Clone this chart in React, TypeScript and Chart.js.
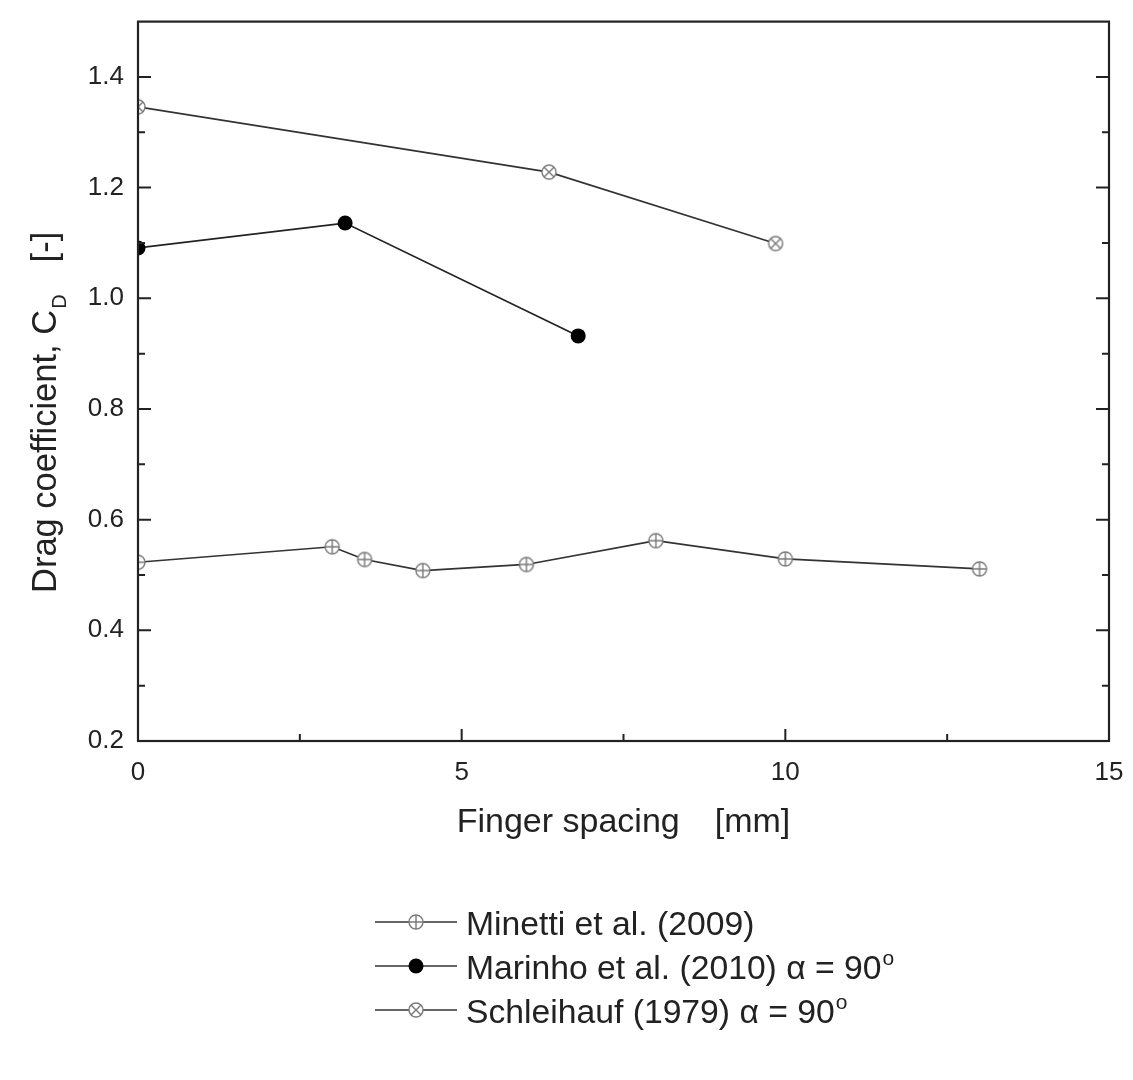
import React, { useEffect, useRef } from "react";
import { Chart, registerables } from "chart.js";

Chart.register(...registerables);

// Finger spacing [mm] vs drag coefficient C_D
const minettiX = [0, 3, 3.5, 4.4, 6, 8, 10, 13];
const minettiY = [0.523, 0.551, 0.528, 0.508, 0.519, 0.562, 0.529, 0.511];

const marinhoX = [0, 3.2, 6.8];
const marinhoY = [1.091, 1.136, 0.932];

const schleihaufX = [0, 6.35, 9.85];
const schleihaufY = [1.346, 1.228, 1.099];

const X_MAJOR = [0, 5, 10, 15];
const X_MINOR = [2.5, 7.5, 12.5];
const Y_MAJOR = [0.2, 0.4, 0.6, 0.8, 1.0, 1.2, 1.4];
const Y_MINOR = [0.3, 0.5, 0.7, 0.9, 1.1, 1.3];

const LEGEND = [
  { label: "Minetti et al. (2009)", angle: "" },
  { label: "Marinho et al. (2010) \u03b1 = 90", angle: "o" },
  { label: "Schleihauf (1979) \u03b1 = 90", angle: "o" },
];

const FONT = "'Liberation Sans', Arial, Helvetica, sans-serif";
const INK = "#222";

function makeMarker(kind: "plus" | "cross"): HTMLCanvasElement {
  const c = document.createElement("canvas");
  c.width = 18;
  c.height = 18;
  const g = c.getContext("2d")!;
  const cx = 9, cy = 9, r = 7;
  g.fillStyle = "#fff";
  g.strokeStyle = "#7a7a7a";
  g.lineWidth = 1.4;
  g.beginPath();
  g.arc(cx, cy, r, 0, Math.PI * 2);
  g.fill();
  g.stroke();
  g.beginPath();
  if (kind === "plus") {
    g.moveTo(cx - r, cy); g.lineTo(cx + r, cy);
    g.moveTo(cx, cy - r); g.lineTo(cx, cy + r);
  } else {
    const d = r * 0.72;
    g.moveTo(cx - d, cy - d); g.lineTo(cx + d, cy + d);
    g.moveTo(cx + d, cy - d); g.lineTo(cx - d, cy + d);
  }
  g.stroke();
  return c;
}

export default function App() {
  const ref = useRef<HTMLCanvasElement | null>(null);

  useEffect(() => {
    const canvas = ref.current;
    if (!canvas) return;
    const plusMarker = makeMarker("plus");
    const crossMarker = makeMarker("cross");

    const drawMarker = (ctx: CanvasRenderingContext2D, i: number, x: number, y: number) => {
      if (i === 1) {
        ctx.fillStyle = "#000";
        ctx.beginPath();
        ctx.arc(x, y, 7.5, 0, Math.PI * 2);
        ctx.fill();
      } else {
        const m = i === 0 ? plusMarker : crossMarker;
        ctx.drawImage(m, x - 9, y - 9);
      }
    };

    const framePlugin = {
      id: "frameAndLabels",
      afterDraw(chart: any) {
        const { ctx, chartArea: a, scales } = chart;
        const xs = scales.x, ys = scales.y;
        ctx.save();
        // frame
        ctx.strokeStyle = INK;
        ctx.lineWidth = 2.2;
        ctx.strokeRect(a.left, a.top, a.right - a.left, a.bottom - a.top);
        // inward ticks
        ctx.lineWidth = 2;
        ctx.beginPath();
        for (const v of X_MAJOR) {
          const p = xs.getPixelForValue(v);
          ctx.moveTo(p, a.bottom); ctx.lineTo(p, a.bottom - 12);
        }
        for (const v of X_MINOR) {
          const p = xs.getPixelForValue(v);
          ctx.moveTo(p, a.bottom); ctx.lineTo(p, a.bottom - 7);
        }
        for (const v of Y_MAJOR) {
          const p = ys.getPixelForValue(v);
          ctx.moveTo(a.left, p); ctx.lineTo(a.left + 13, p);
          ctx.moveTo(a.right, p); ctx.lineTo(a.right - 13, p);
        }
        for (const v of Y_MINOR) {
          const p = ys.getPixelForValue(v);
          ctx.moveTo(a.left, p); ctx.lineTo(a.left + 7, p);
          ctx.moveTo(a.right, p); ctx.lineTo(a.right - 7, p);
        }
        ctx.stroke();

        // x axis title
        ctx.fillStyle = INK;
        ctx.textBaseline = "alphabetic";
        ctx.font = `34px ${FONT}`;
        const cx = (a.left + a.right) / 2;
        const t1 = "Finger spacing";
        const t2 = "[mm]";
        const gap = 35;
        const w1 = ctx.measureText(t1).width;
        const w2 = ctx.measureText(t2).width;
        const start = cx - (w1 + gap + w2) / 2;
        ctx.textAlign = "left";
        ctx.fillText(t1, start, 832);
        ctx.fillText(t2, start + w1 + gap, 832);

        // y axis title (rotated)
        ctx.save();
        ctx.translate(56, 593);
        ctx.rotate(-Math.PI / 2);
        ctx.font = `34.5px ${FONT}`;
        const y1 = "Drag coefficient, C";
        ctx.fillText(y1, 0, 0);
        let off = ctx.measureText(y1).width;
        ctx.font = `20px ${FONT}`;
        ctx.fillText("D", off + 1, 10);
        off += ctx.measureText("D").width + 1 + 32;
        ctx.font = `34.5px ${FONT}`;
        ctx.fillText("[-]", off, 0);
        ctx.restore();

        // legend
        LEGEND.forEach((item, i) => {
          const ly = 922 + i * 44;
          ctx.strokeStyle = "#333";
          ctx.lineWidth = 1.6;
          ctx.beginPath();
          ctx.moveTo(375, ly);
          ctx.lineTo(457, ly);
          ctx.stroke();
          drawMarker(ctx, i, 416, ly);
          ctx.fillStyle = INK;
          ctx.font = `33.7px ${FONT}`;
          ctx.textAlign = "left";
          ctx.fillText(item.label, 466, ly + 13);
          if (item.angle) {
            const w = ctx.measureText(item.label).width;
            ctx.font = `21px ${FONT}`;
            ctx.fillText(item.angle, 466 + w + 1, ly - 1);
          }
        });
        ctx.restore();
      },
    };

    const toPts = (xs: number[], ys: number[]) => xs.map((x, i) => ({ x, y: ys[i] }));

    const chart = new Chart(canvas, {
      type: "line",
      data: {
        datasets: [
          {
            label: "Minetti et al. (2009)",
            data: toPts(minettiX, minettiY),
            borderColor: "#333",
            borderWidth: 1.7,
            pointStyle: plusMarker as any,
            pointRadius: 8,
          },
          {
            label: "Marinho et al. (2010) \u03b1 = 90\u00b0",
            data: toPts(marinhoX, marinhoY),
            borderColor: "#222",
            borderWidth: 1.7,
            pointStyle: "circle",
            pointRadius: 7.5,
            pointBackgroundColor: "#000",
            pointBorderWidth: 0,
          },
          {
            label: "Schleihauf (1979) \u03b1 = 90\u00b0",
            data: toPts(schleihaufX, schleihaufY),
            borderColor: "#333",
            borderWidth: 1.7,
            pointStyle: crossMarker as any,
            pointRadius: 8,
          },
        ],
      },
      options: {
        animation: false,
        responsive: false,
        maintainAspectRatio: false,
        layout: { padding: { top: 13, right: 24, left: 0, bottom: 0 } },
        plugins: {
          legend: { display: false },
          tooltip: { enabled: false },
        },
        scales: {
          x: {
            type: "linear",
            min: 0,
            max: 15,
            grid: { display: false },
            border: { display: false },
            afterBuildTicks: (s: any) => {
              s.ticks = X_MAJOR.map((v) => ({ value: v }));
            },
            afterFit: (s: any) => {
              s.height = 1080 - 741;
            },
            ticks: {
              padding: 8,
              color: INK,
              font: { family: FONT, size: 26 },
              maxRotation: 0,
              callback: (v: any) => String(v),
            },
          },
          y: {
            type: "linear",
            min: 0.2,
            max: 1.5,
            grid: { display: false },
            border: { display: false },
            afterBuildTicks: (s: any) => {
              s.ticks = Y_MAJOR.map((v) => ({ value: v }));
            },
            afterFit: (s: any) => {
              s.width = 138;
            },
            ticks: {
              padding: 6,
              color: INK,
              font: { family: FONT, size: 26 },
              callback: (v: any) => Number(v).toFixed(1),
            },
          },
        },
      },
      plugins: [framePlugin],
    });

    return () => chart.destroy();
  }, []);

  return (
    <div style={{ position: "absolute", left: 0, top: 0, width: 1133, height: 1080, background: "#fff" }}>
      <canvas ref={ref} width={1133} height={1080} style={{ display: "block" }} />
    </div>
  );
}
